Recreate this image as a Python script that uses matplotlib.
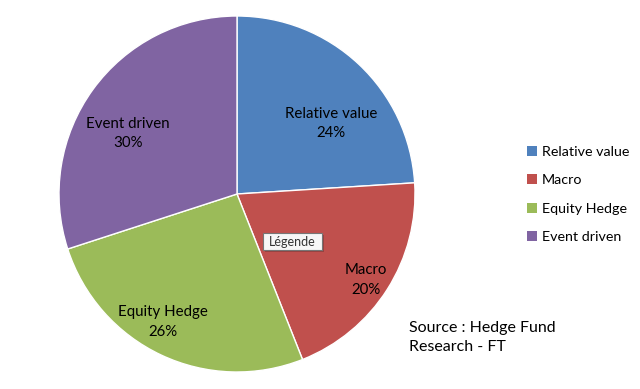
import matplotlib.pyplot as plt
from matplotlib.patches import Patch, Rectangle
import numpy as np

plt.rcParams['font.family'] = ['Lato', 'DejaVu Sans']

# données
categories = ['Relative value', 'Macro', 'Equity Hedge', 'Event driven']
values = [24, 20, 26, 30]
colors = ['#4F81BD', '#C0504D', '#9BBB59', '#8064A2']
# position des étiquettes (rayon relatif, angle en degrés)
label_pos = [(0.66, 37), (0.87, -33.7), (0.83, -120), (0.70, 151)]

W, H = 640, 389
fig = plt.figure(figsize=(W / 100, H / 100), dpi=100)
fig.patch.set_facecolor('white')

# axe du camembert : centre (237,194) px, rayon 178 px
cx, cy, r = 237, 194, 178
ax = fig.add_axes([(cx - r) / W, (H - cy - r) / H, 2 * r / W, 2 * r / H])

wedges, _ = ax.pie(values, colors=colors, startangle=90, counterclock=False,
                   radius=1, wedgeprops=dict(edgecolor='white', linewidth=1))
ax.set_xlim(-1, 1)
ax.set_ylim(-1, 1)
ax.set_aspect('equal')
ax.axis('off')

for cat, val, (d, a) in zip(categories, values, label_pos):
    t = np.deg2rad(a)
    ax.text(d * np.cos(t), d * np.sin(t), f'{cat}\n{val}%', ha='center', va='center',
            fontsize=10.8, color='black', linespacing=1.5)

# légende
handles = [Patch(facecolor=c, edgecolor='none') for c in colors]
fig.legend(handles, categories, loc='center left', bbox_to_anchor=(521 / W, 1 - 194.5 / H),
           frameon=False, fontsize=10.3, labelspacing=1.13, handlelength=0.7, handleheight=0.7,
           handletextpad=0.35, borderaxespad=0)

# info-bulle : ombre, cadre, texte
bx, by, bw, bh = 263, 233, 59, 17
fig.add_artist(Rectangle(((bx + 2) / W, 1 - (by + bh + 2) / H), bw / W, bh / H,
                         transform=fig.transFigure, fc='#7a3a38', ec='none', alpha=0.6))
fig.add_artist(Rectangle((bx / W, 1 - (by + bh) / H), bw / W, bh / H,
                         transform=fig.transFigure, fc='#f7f7f7', ec='#767676', lw=0.8))
fig.text((bx + bw / 2) / W, 1 - (by + bh / 2) / H, 'Légende', ha='center', va='center',
         fontsize=9, color='#333333')

# source
fig.text(409 / W, 1 - 321 / H, 'Source : Hedge Fund\nResearch - FT', ha='left', va='top',
         fontsize=11.5, color='black', linespacing=1.42)

fig.savefig('out.png', dpi=100, facecolor='white')
